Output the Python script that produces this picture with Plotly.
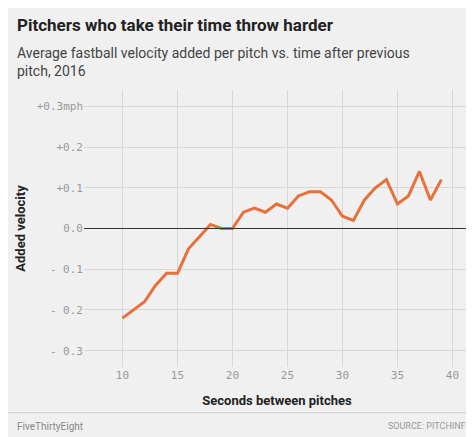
import plotly.graph_objects as go

seconds = list(range(10, 40))
velocity = [-0.22, -0.20, -0.18, -0.14, -0.11, -0.11, -0.05, -0.02, 0.01, 0.0,
            0.0, 0.04, 0.05, 0.04, 0.06, 0.05, 0.08, 0.09, 0.09, 0.07,
            0.03, 0.02, 0.07, 0.10, 0.12, 0.06, 0.08, 0.14, 0.07, 0.12]
y_ticks = [-0.3, -0.2, -0.1, 0.0, 0.1, 0.2, 0.3]
y_labels = ["- 0.3", "- 0.2", "- 0.1", "0.0", "+0.1", "+0.2", "+0.3mph"]
x_ticks = [10, 15, 20, 25, 30, 35, 40]

BG = "#f0f0f0"
GRID = "#d7d7d7"
TICK = "#999999"

fig = go.Figure()
fig.add_trace(go.Scatter(x=seconds, y=velocity, mode="lines",
                         line=dict(color="#e8703a", width=3), hoverinfo="skip"))
fig.add_hline(y=0, line_color="#333333", line_width=1)

fig.update_layout(
    width=474, height=437,
    paper_bgcolor=BG, plot_bgcolor=BG,
    showlegend=False,
    margin=dict(l=76, r=12, t=82, b=78),
    xaxis=dict(range=[6.5, 41.6], tickvals=x_ticks, showgrid=True, gridcolor=GRID,
               zeroline=False, tickfont=dict(family="DejaVu Sans Mono", size=11, color=TICK),
               title=dict(text="<b>Seconds between pitches</b>", standoff=14,
                          font=dict(family="Roboto", size=13, color="#222222"))),
    yaxis=dict(range=[-0.34, 0.34], tickvals=y_ticks, ticktext=y_labels, showgrid=True,
               gridcolor=GRID, zeroline=False,
               tickfont=dict(family="DejaVu Sans Mono", size=11, color=TICK),
               title=dict(text="<b>Added velocity</b>", standoff=8,
                          font=dict(family="Roboto", size=13, color="#222222"))),
)

fig.add_annotation(text="<b>Pitchers who take their time throw harder</b>", xref="paper", yref="paper",
                   x=-0.18, y=1.235, xanchor="left", yanchor="middle", showarrow=False,
                   font=dict(family="Roboto", size=17, color="#222222"))
fig.add_annotation(text="Average fastball velocity added per pitch vs. time after previous<br>pitch, 2016",
                   xref="paper", yref="paper", x=-0.18, y=1.17, xanchor="left", yanchor="top",
                   align="left", showarrow=False,
                   font=dict(family="Roboto", size=14, color="#444444"))
fig.add_annotation(text="FiveThirtyEight", xref="paper", yref="paper", x=-0.18, y=-0.213,
                   xanchor="left", yanchor="middle", showarrow=False,
                   font=dict(family="Roboto", size=10, color="#888888"))
fig.add_annotation(text="SOURCE: PITCHINFO", xref="paper", yref="paper", x=1.01, y=-0.213,
                   xanchor="right", yanchor="middle", showarrow=False,
                   font=dict(family="Roboto", size=9, color="#999999"))
fig.add_shape(type="line", xref="paper", yref="paper", x0=-0.2, x1=1.04, y0=-0.165, y1=-0.165,
              line=dict(color="#cccccc", width=1))

fig.write_html("out.html")
